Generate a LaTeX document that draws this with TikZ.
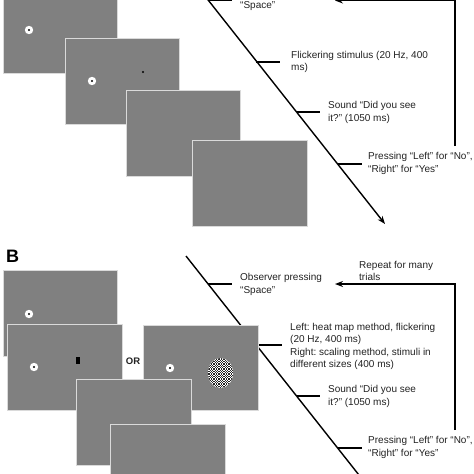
\documentclass[tikz,border=0pt]{standalone}
\usepackage{fontspec}
\setmainfont{Liberation Sans}
\usetikzlibrary{arrows.meta}
\frenchspacing
\definecolor{scr}{HTML}{808080}
\definecolor{scredge}{HTML}{DADADA}
\definecolor{txt}{HTML}{222222}
\tikzset{
  screen/.style={fill=scr, draw=scredge, line width=0.9pt},
  timeline/.style={line width=1.4pt, black, -{Stealth[length=8pt,width=6pt]}},
  tick/.style={line width=1.4pt, black},
  loopline/.style={line width=1.4pt, black, -{Stealth[length=8pt,width=6pt]}},
  lab/.style={anchor=west, inner sep=0pt, align=left, text=txt, font=\fontsize{10}{12.3}\selectfont},
}
\newcommand{\fixmark}[1]{\fill[white] #1 circle (4.2); \fill[black] #1 circle (1.1);}
\begin{document}
\begin{tikzpicture}[x=1pt, y=-1pt]
\useasboundingbox (0,0) rectangle (474,474);
\clip (0,0) rectangle (474,474);

% ---------------- Panel B timeline ----------------
\coordinate (bs) at (186,256);
\coordinate (be) at (385,508);
\draw[timeline] (bs) -- (be);
\coordinate (bt1a) at (208.1,284); \coordinate (bt1b) at (232,284);
\coordinate (bt2a) at (256.3,345); \coordinate (bt2b) at (282,345);
\coordinate (bt3a) at (296.6,396); \coordinate (bt3b) at (320,396);
\coordinate (bt4a) at (337.6,448); \coordinate (bt4b) at (362,448);
\draw[tick] (bt1a) -- (bt1b);
\draw[tick] (bt2a) -- (bt2b);
\draw[tick] (bt3a) -- (bt3b);
\draw[tick] (bt4a) -- (bt4b);
\coordinate (bl0) at (455,430);
\coordinate (bl1) at (335,284);
\draw[loopline] (bl0) |- (bl1);
\node[lab] (bobs) at (240,284.5) {Observer pressing\\“Space”};
\node[lab] (brep) at (359,271) {Repeat for many\\trials};
\node[lab] (bleft) at (290,346.5) {Left: heat map method, flickering\\(20 Hz, 400 ms)\\Right: scaling method, stimuli in\\different sizes (400 ms)};
\node[lab] (bsnd) at (328,396.5) {Sound “Did you see\\it?” (1050 ms)};
\node[lab] (bprs) at (368,447.5) {Pressing “Left” for “No”,\\“Right” for “Yes”};

% ---------------- Panel A timeline ----------------
\coordinate (as) at (186,-28);
\coordinate (ae) at (385,224);
\draw[timeline] (as) -- (ae);
\coordinate (at1a) at (208.1,0); \coordinate (at1b) at (232,0);
\coordinate (at2a) at (256.3,62); \coordinate (at2b) at (280,62);
\coordinate (at3a) at (296.6,112); \coordinate (at3b) at (320,112);
\coordinate (at4a) at (337.6,164); \coordinate (at4b) at (362,164);
\draw[tick] (at1a) -- (at1b);
\draw[tick] (at2a) -- (at2b);
\draw[tick] (at3a) -- (at3b);
\draw[tick] (at4a) -- (at4b);
\coordinate (al0) at (455,146);
\coordinate (al1) at (335,0.5);
\draw[loopline] (al0) |- (al1);
\node[lab] (aobs) at (240,6.5) {“Space”};
\node[lab] (aflk) at (291,62) {Flickering stimulus (20 Hz, 400\\ms)};
\node[lab] (asnd) at (328,112.5) {Sound “Did you see\\it?” (1050 ms)};
\node[lab] (aprs) at (368,163.5) {Pressing “Left” for “No”,\\“Right” for “Yes”};

% ---------------- Panel A screens ----------------
\draw[screen] (3,-14) rectangle (117,73);
\fixmark{(29,30)}
\draw[screen] (65,38) rectangle (179,124);
\fixmark{(92,81)}
\fill[black] (143,72) circle (1.2);
\draw[screen] (126,90) rectangle (240,176);
\draw[screen] (192,140) rectangle (307,226);

% ---------------- Panel B ----------------
\node[anchor=west, inner sep=0pt, font=\fontsize{18}{18}\bfseries\selectfont] (blabel) at (6,256) {B};
\draw[screen] (3,270) rectangle (117,356);
\fixmark{(29,314)}
\draw[screen] (7,324) rectangle (122,410);
\fixmark{(34,367)}
\fill[black] (76,357) rectangle (80,364);
\node[anchor=center, inner sep=0pt, text=txt, font=\fontsize{9.5}{10}\bfseries\selectfont] (bor) at (133,361.5) {OR};
\draw[screen] (143,325) rectangle (258,410);
\fixmark{(170,368)}
\begin{scope}
  \clip (220.5,373) ellipse [x radius=12.5, y radius=15];
  \fill[white] (207,357) rectangle (234,389);
  \foreach \i in {0,...,21} {
    \foreach \j in {0,...,25} {
      \pgfmathtruncatemacro\cpar{mod(\i+\j,2)}
      \ifnum\cpar=0
        \fill[black!85] ({207+1.25*\i},{357+1.25*\j}) rectangle ++(1.25,1.25);
      \fi
    }
  }
\end{scope}
\draw[screen] (76,379) rectangle (191,465);
\draw[screen] (110,424) rectangle (225,510);
\end{tikzpicture}
\end{document}
